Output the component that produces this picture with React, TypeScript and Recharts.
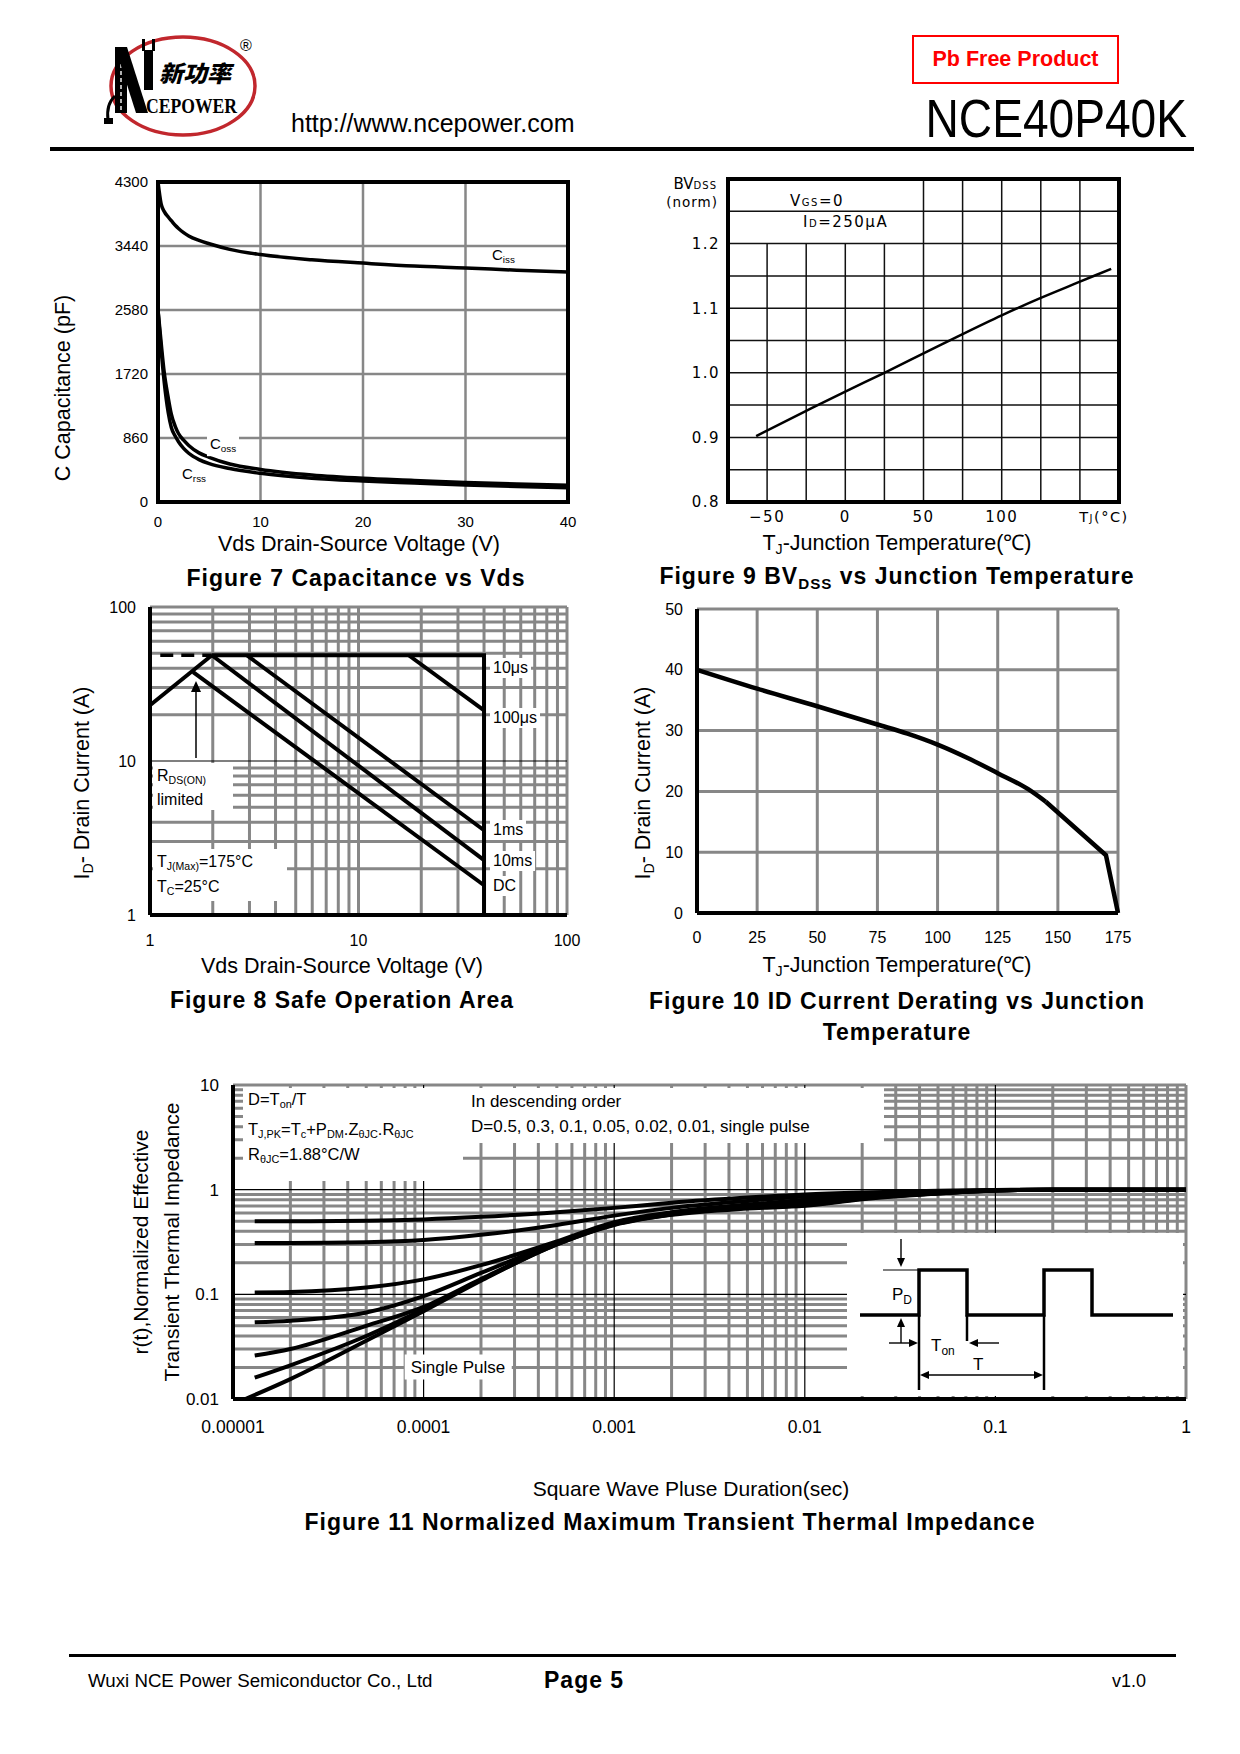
import React from 'react'
import { LineChart, Line, XAxis, YAxis, ReferenceLine } from 'recharts'

// Figure 7 – capacitance vs Vds (pF)
const capVds = [0, 0.3, 0.6, 1, 1.3, 1.7, 2, 2.5, 3, 4, 5, 7, 10, 15, 20, 25, 30, 35, 40]
const capCiss = [4300, 4010, 3905, 3830, 3780, 3715, 3675, 3620, 3575, 3515, 3470, 3395, 3325, 3255, 3210, 3170, 3145, 3115, 3090]
const capCoss = [2580, 2150, 1750, 1400, 1180, 1010, 920, 830, 760, 660, 600, 510, 437, 362, 318, 290, 262, 242, 225]
const capCrss = [2580, 2050, 1620, 1200, 1000, 880, 810, 720, 655, 570, 515, 450, 385, 318, 282, 255, 228, 208, 192]
const capTicksX = [0, 10, 20, 30, 40]
const capTicksY = [0, 860, 1720, 2580, 3440, 4300]

// Figure 9 – BVdss (normalised) vs Tj
const bvTemp = [-57, -25, 0, 25, 50, 75, 100, 125, 150, 170]
const bvNorm = [0.902, 0.941, 0.971, 1.0, 1.03, 1.06, 1.089, 1.116, 1.141, 1.161]
const bvTicksX = [-50, 0, 50, 100]
const bvTicksY = [0.8, 0.9, 1.0, 1.1, 1.2]
const bvGridX = [-50, -25, 0, 25, 50, 75, 100, 125, 150]
const bvGridY = [0.85, 0.9, 0.95, 1.0, 1.05, 1.1, 1.15, 1.2, 1.25]

// Figure 8 – safe operating area (V, A)
const soaDashed = [{ v: 1.12, i: 48.6 }, { v: 1.98, i: 48.6 }]
const soaRds = [{ v: 1, i: 23 }, { v: 1.98, i: 48.6 }]
const soaLimit = [{ v: 1.98, i: 48.6 }, { v: 40, i: 48.6 }, { v: 40, i: 1 }]
const soa100us = [{ v: 17.4, i: 48.6 }, { v: 40, i: 21.3 }]
const soa1ms = [{ v: 2.91, i: 48.6 }, { v: 40, i: 3.55 }]
const soa10ms = [{ v: 1.98, i: 48.6 }, { v: 40, i: 2.27 }]
const soaDC = [{ v: 1.61, i: 37.8 }, { v: 40, i: 1.56 }]
const soaTicks = [1, 10, 100]

// Figure 10 – current derating (smooth part, then the straight tail)
const derTemp = [0, 25, 50, 75, 87.5, 100, 112.5, 125, 137.5, 145]
const derId = [40, 36.9, 34, 31, 29.5, 27.7, 25.5, 23.0, 20.4, 18.3]
const derTailTemp = [145, 170, 175]
const derTailId = [18.3, 9.5, 0]
const derTicksX = [0, 25, 50, 75, 100, 125, 150, 175]
const derTicksY = [0, 10, 20, 30, 40, 50]

// Figure 11 – normalised transient thermal impedance
const zthTimes = [1.3e-5, 2e-5, 5e-5, 1e-4, 2e-4, 5e-4, 1e-3, 2e-3, 5e-3, 1e-2, 2e-2, 5e-2, 0.1, 0.2, 0.5, 1]
const zthD05 = [0.5, 0.5, 0.505, 0.52, 0.55, 0.61, 0.67, 0.75, 0.84, 0.9, 0.94, 0.975, 0.995, 1, 1, 1]
const zthD03 = [0.31, 0.31, 0.315, 0.33, 0.37, 0.46, 0.565, 0.67, 0.78, 0.86, 0.91, 0.96, 0.99, 1, 1, 1]
const zthD01 = [0.104, 0.105, 0.116, 0.139, 0.19, 0.32, 0.49, 0.61, 0.72, 0.8, 0.87, 0.94, 0.985, 1, 1, 1]
const zthD005 = [0.054, 0.056, 0.067, 0.096, 0.16, 0.31, 0.475, 0.595, 0.69, 0.76, 0.85, 0.93, 0.98, 1, 1, 1]
const zthD002 = [0.026, 0.03, 0.05, 0.076, 0.14, 0.305, 0.47, 0.585, 0.68, 0.73, 0.83, 0.925, 0.98, 1, 1, 1]
const zthD001 = [0.016, 0.021, 0.04, 0.072, 0.137, 0.3, 0.465, 0.58, 0.67, 0.71, 0.82, 0.92, 0.98, 1, 1, 1]
const singleTimes = [1.16e-5, 2e-5, 5e-5, 1e-4, 2e-4, 5e-4, 1e-3, 2e-3, 5e-3, 1e-2, 2e-2, 5e-2, 0.1, 0.2, 0.5, 1]
const zthSingle = [0.01, 0.0155, 0.036, 0.069, 0.135, 0.3, 0.46, 0.575, 0.66, 0.7, 0.81, 0.92, 0.98, 1, 1, 1]
const zthTicksX = [1e-5, 1e-4, 1e-3, 1e-2, 0.1, 1]
const zthLabelsX = ['0.00001', '0.0001', '0.001', '0.01', '0.1', '1']
const zthTicksY = [0.01, 0.1, 1, 10]
const zthLabelsY = ['0.01', '0.1', '1', '10']

const logSteps = [2, 3, 4, 5, 6, 7, 8, 9]
const logGrid = (decades: number[]) => decades.flatMap(d => logSteps.map(k => k * d))

const FONT = '"Liberation Sans", Arial, Helvetica, sans-serif'
const WIDE = '"DejaVu Sans", sans-serif'
const GRID = '#878787'
const PAD_L = 70
const PAD_T = 12
const PAD_R = 14
const PAD_B = 50

type Box = { x: number; y: number; w: number; h: number }
const fig7Box: Box = { x: 158, y: 182, w: 410, h: 320 }
const fig9Box: Box = { x: 728, y: 179, w: 391, h: 323 }
const fig8Box: Box = { x: 150, y: 607, w: 417, h: 308 }
const fig10Box: Box = { x: 697, y: 609, w: 421, h: 304 }
const fig11Box: Box = { x: 233, y: 1085, w: 953, h: 314 }

const zip = (xs: number[], ys: number[], kx: string, ky: string) =>
  xs.map((x, k) => ({ [kx]: x, [ky]: ys[k] }))

const capRows = capVds.map((v, k) => ({ v, ciss: capCiss[k], coss: capCoss[k], crss: capCrss[k] }))
const bvRows = zip(bvTemp, bvNorm, 't', 'bv')
const derRows = zip(derTemp, derId, 't', 'id')
const derTailRows = zip(derTailTemp, derTailId, 't', 'id')
const zthCurves = [zthD05, zthD03, zthD01, zthD005, zthD002, zthD001].map(ys => zip(zthTimes, ys, 't', 'z'))
const zthSingleRows = zip(singleTimes, zthSingle, 't', 'z')

function chartProps(b: Box) {
  return {
    width: b.w + PAD_L + PAD_R,
    height: b.h + PAD_T + PAD_B,
    margin: { top: PAD_T, right: PAD_R, left: 0, bottom: 0 },
  }
}
const holder = (b: Box): React.CSSProperties => ({ position: 'absolute', left: b.x - PAD_L, top: b.y - PAD_T })
const frame = (b: Box): React.CSSProperties => ({
  position: 'absolute', left: b.x - 2, top: b.y - 2, width: b.w + 4, height: b.h + 4,
  border: '4px solid #000', boxSizing: 'border-box',
})
const tick = (size: number, family = FONT, extra: object = {}) => ({ fill: '#000', fontSize: size, fontFamily: family, ...extra })

function vLines(vals: number[], color: string, w: number, key: string) {
  return vals.map(v => <ReferenceLine key={key + v} x={v} stroke={color} strokeWidth={w} />)
}
function hLines(vals: number[], color: string, w: number, key: string) {
  return vals.map(v => <ReferenceLine key={key + v} y={v} stroke={color} strokeWidth={w} />)
}

type TxtProps = {
  x: number; y: number; size?: number; bold?: boolean; anchor?: 'start' | 'middle' | 'end'
  rotate?: number; children: React.ReactNode; style?: React.CSSProperties
}
function Txt({ x, y, size = 16, bold, anchor = 'start', rotate, children, style }: TxtProps) {
  const tx = anchor === 'middle' ? '-50%' : anchor === 'end' ? '-100%' : '0'
  return (
    <div style={{
      position: 'absolute', left: x, top: y, fontSize: size, fontWeight: bold ? 700 : 400,
      whiteSpace: 'nowrap', lineHeight: 1,
      transform: `translate(${tx},-50%)${rotate ? ` rotate(${rotate}deg)` : ''}`, ...style,
    }}>{children}</div>
  )
}
const Sub = ({ children }: { children: React.ReactNode }) => (
  <span style={{ fontSize: '0.66em', verticalAlign: '-0.28em' }}>{children}</span>
)
const boxed: React.CSSProperties = { background: '#fff', padding: '2px 3px' }

function Logo() {
  return (
    <svg width={170} height={115} style={{ position: 'absolute', left: 100, top: 30 }}>
      <ellipse cx={83} cy={56} rx={72} ry={49} fill="none" stroke="#c1272d" strokeWidth={3.5} />
      <rect x={15} y={17} width={12} height={66} fill="#000" />
      <line x1={21} y1={20} x2={21} y2={80} stroke="#fff" strokeWidth={1.4} strokeDasharray="4 3" />
      <polygon points="15,17 27,17 48,83 36,83" fill="#000" />
      <rect x={44} y={20} width={9} height={40} fill="#000" />
      <rect x={42} y={9} width={3} height={12} fill="#000" />
      <rect x={52} y={9} width={3} height={12} fill="#000" />
      <path d="M15,66 Q6,74 8,90" stroke="#000" strokeWidth={3} fill="none" />
      <rect x={4} y={88} width={9} height={6} fill="#000" />
      <text x={59} y={52} fontFamily='"Noto Sans CJK SC"' fontWeight={900} fontStyle="italic" fontSize={23}
        textLength={72} lengthAdjust="spacingAndGlyphs">新功率</text>
      <text x={46} y={83} fontFamily='"Liberation Serif", serif' fontWeight={700} fontSize={21}
        textLength={91} lengthAdjust="spacingAndGlyphs">CEPOWER</text>
      <text x={140} y={21} fontFamily={FONT} fontSize={16}>®</text>
    </svg>
  )
}

function PulseInset() {
  const base = 82
  const top = 37
  return (
    <div style={{ position: 'absolute', left: 847, top: 1233, width: 336, height: 163, background: '#fff' }}>
      <svg width={336} height={163} style={{ fontFamily: FONT }}>
        <polyline
          points={`13,${base} 72,${base} 72,${top} 120,${top} 120,${base} 197,${base} 197,${top} 245,${top} 245,${base} 326,${base}`}
          fill="none" stroke="#000" strokeWidth={3.5} />
        <line x1={72} y1={base} x2={72} y2={157} stroke="#000" strokeWidth={2.5} />
        <line x1={120} y1={base} x2={120} y2={108} stroke="#000" strokeWidth={2.5} />
        <line x1={197} y1={base} x2={197} y2={157} stroke="#000" strokeWidth={2.5} />
        <line x1={36} y1={top} x2={72} y2={top} stroke="#000" strokeWidth={1.2} />
        <line x1={54} y1={6} x2={54} y2={26} stroke="#000" strokeWidth={1.4} />
        <polygon points="50,25 58,25 54,34" fill="#000" />
        <line x1={54} y1={110} x2={54} y2={93} stroke="#000" strokeWidth={1.4} />
        <polygon points="50,94 58,94 54,85" fill="#000" />
        <line x1={42} y1={110} x2={62} y2={110} stroke="#000" strokeWidth={1.4} />
        <polygon points="62,106 62,114 71,110" fill="#000" />
        <line x1={152} y1={110} x2={131} y2={110} stroke="#000" strokeWidth={1.4} />
        <polygon points="131,106 131,114 122,110" fill="#000" />
        <line x1={80} y1={142} x2={189} y2={142} stroke="#000" strokeWidth={1.4} />
        <polygon points="82,138 82,146 73,142" fill="#000" />
        <polygon points="187,138 187,146 196,142" fill="#000" />
        <text x={45} y={67} fontSize={17}>P<tspan fontSize={12} dy={4}>D</tspan></text>
        <text x={84} y={118} fontSize={17}>T<tspan fontSize={12} dy={4}>on</tspan></text>
        <text x={126} y={137} fontSize={17}>T</text>
      </svg>
    </div>
  )
}

export default function App() {
  const line = { type: 'monotone' as const, stroke: '#000', dot: false, isAnimationActive: false }
  const lin = { type: 'linear' as const, stroke: '#000', dot: false, isAnimationActive: false }

  return (
    <div style={{ position: 'absolute', left: 0, top: 0, width: 1240, height: 1754, background: '#fff', fontFamily: FONT, color: '#000', overflow: 'hidden' }}>
      {/* header */}
      <Logo />
      <Txt x={291} y={123} size={25}>http://www.ncepower.com</Txt>
      <div style={{
        position: 'absolute', left: 912, top: 35, width: 207, height: 49, border: '2px solid #f00', boxSizing: 'border-box',
        display: 'flex', alignItems: 'center', justifyContent: 'center', color: '#f00', fontWeight: 700, fontSize: 21.5,
      }}>Pb Free Product</div>
      <Txt x={1187} y={118} size={53} anchor="end" style={{ transform: 'translate(-100%,-50%) scaleX(0.87)', transformOrigin: '100% 50%' }}>NCE40P40K</Txt>
      <div style={{ position: 'absolute', left: 50, top: 147, width: 1144, height: 4, background: '#000' }} />

      {/* Figure 7 */}
      <div style={holder(fig7Box)}>
        <LineChart {...chartProps(fig7Box)} data={capRows}>
          <XAxis dataKey="v" type="number" domain={[0, 40]} ticks={capTicksX} interval={0} tickSize={0} tickMargin={14}
            axisLine={false} tickLine={false} height={PAD_B} tick={tick(15)} />
          <YAxis type="number" domain={[0, 4300]} ticks={capTicksY} interval={0} tickSize={0} tickMargin={10}
            axisLine={false} tickLine={false} width={PAD_L} tick={tick(15)} />
          {vLines([10, 20, 30], GRID, 2.5, 'cx')}
          {hLines([860, 1720, 2580, 3440], GRID, 2.5, 'cy')}
          <Line dataKey="ciss" {...line} strokeWidth={3.5} />
          <Line dataKey="coss" {...line} strokeWidth={3.5} />
          <Line dataKey="crss" {...line} strokeWidth={3.5} />
        </LineChart>
      </div>
      <div style={frame(fig7Box)} />
      <Txt x={492} y={256} size={15}>C<Sub>iss</Sub></Txt>
      <Txt x={207} y={445} size={15} style={boxed}>C<Sub>oss</Sub></Txt>
      <Txt x={182} y={475} size={15}>C<Sub>rss</Sub></Txt>
      <Txt x={64} y={388} size={21.5} anchor="middle" rotate={-90}>C Capacitance (pF)</Txt>
      <Txt x={359} y={545} size={21.5} anchor="middle">Vds Drain-Source Voltage (V)</Txt>
      <Txt x={356} y={578} size={23} bold anchor="middle" style={{ letterSpacing: 1 }}>Figure 7 Capacitance vs Vds</Txt>

      {/* Figure 9 */}
      <div style={holder(fig9Box)}>
        <LineChart {...chartProps(fig9Box)} data={bvRows}>
          <XAxis dataKey="t" type="number" domain={[-75, 175]} ticks={bvTicksX} interval={0} tickSize={0} tickMargin={9}
            axisLine={false} tickLine={false} height={PAD_B}
            tickFormatter={(v: number) => String(v).replace('-', '−')}
            tick={tick(15, WIDE, { letterSpacing: 1.5 })} />
          <YAxis type="number" domain={[0.8, 1.3]} ticks={bvTicksY} interval={0} tickSize={0} tickMargin={8}
            axisLine={false} tickLine={false} width={PAD_L} tickFormatter={(v: number) => v.toFixed(1)}
            tick={tick(15, WIDE, { letterSpacing: 1.5 })} />
          {hLines(bvGridY, '#111', 1.5, 'by')}
          {bvGridX.map(v => (
            <ReferenceLine key={'bx' + v} stroke="#111" strokeWidth={1.5}
              segment={[{ x: v, y: 0.8 }, { x: v, y: v < 40 ? 1.2 : 1.3 }]} />
          ))}
          <Line dataKey="bv" {...line} strokeWidth={2.5} />
        </LineChart>
      </div>
      <div style={frame(fig9Box)} />
      <Txt x={717} y={184} size={15} anchor="end" style={{ fontFamily: WIDE }}>BV<span style={{ fontSize: 10, letterSpacing: 1 }}>DSS</span></Txt>
      <Txt x={718} y={203} size={13.5} anchor="end" style={{ fontFamily: WIDE, letterSpacing: 1 }}>(norm)</Txt>
      <Txt x={790} y={201} size={15} style={{ fontFamily: WIDE, letterSpacing: 1.5 }}>V<span style={{ fontSize: 10 }}>GS</span>=0</Txt>
      <Txt x={803} y={222} size={15} style={{ fontFamily: WIDE, letterSpacing: 1.5 }}>I<span style={{ fontSize: 10 }}>D</span>=250μA</Txt>
      <Txt x={1104} y={517} size={14.5} anchor="middle" style={{ fontFamily: WIDE, letterSpacing: 1.5 }}>T<span style={{ fontSize: 10 }}>J</span>(°C)</Txt>
      <Txt x={897} y={545} size={21.5} anchor="middle">T<Sub>J</Sub>-Junction Temperature(℃)</Txt>
      <Txt x={897} y={578} size={23} bold anchor="middle" style={{ letterSpacing: 1 }}>Figure 9 BV<Sub>DSS</Sub> vs Junction Temperature</Txt>

      {/* Figure 8 */}
      <div style={holder(fig8Box)}>
        <LineChart {...chartProps(fig8Box)}>
          <XAxis dataKey="v" type="number" scale="log" domain={[1, 100]} allowDataOverflow ticks={soaTicks} interval={0}
            tickSize={0} tickMargin={20} axisLine={{ stroke: '#000', strokeWidth: 4 }} tickLine={false} height={PAD_B} tick={tick(16)} />
          <YAxis type="number" scale="log" domain={[1, 100]} allowDataOverflow ticks={soaTicks} interval={0}
            tickSize={0} tickMargin={14} axisLine={{ stroke: '#000', strokeWidth: 4 }} tickLine={false} width={PAD_L} tick={tick(16)} />
          {vLines([...logGrid([1, 10]), 10, 100], GRID, 3, 'sx')}
          {hLines([...logGrid([1, 10]), 100], GRID, 3, 'sy')}
          {hLines([10], '#000', 1.2, 'sd')}
          <Line data={soaDashed} dataKey="i" {...lin} strokeWidth={3.5} strokeDasharray="13 8" />
          <Line data={soaRds} dataKey="i" {...lin} strokeWidth={4} />
          <Line data={soaLimit} dataKey="i" {...lin} strokeWidth={4} />
          <Line data={soa100us} dataKey="i" {...lin} strokeWidth={4} />
          <Line data={soa1ms} dataKey="i" {...lin} strokeWidth={4} />
          <Line data={soa10ms} dataKey="i" {...lin} strokeWidth={4} />
          <Line data={soaDC} dataKey="i" {...lin} strokeWidth={4} />
        </LineChart>
      </div>
      <svg width={20} height={84} style={{ position: 'absolute', left: 186, top: 678 }}>
        <line x1={10} y1={80} x2={10} y2={12} stroke="#000" strokeWidth={1.5} />
        <polygon points="5,14 15,14 10,3" fill="#000" />
      </svg>
      <div style={{ position: 'absolute', left: 153, top: 763, width: 80, height: 47, background: '#fff' }} />
      <Txt x={157} y={777} size={16}>R<Sub>DS(ON)</Sub></Txt>
      <Txt x={157} y={800} size={16}>limited</Txt>
      <div style={{ position: 'absolute', left: 153, top: 849, width: 134, height: 52, background: '#fff' }} />
      <Txt x={157} y={863} size={16}>T<Sub>J(Max)</Sub>=175°C</Txt>
      <Txt x={157} y={888} size={16}>T<Sub>C</Sub>=25°C</Txt>
      <Txt x={490} y={668} size={16} style={boxed}>10μs</Txt>
      <Txt x={490} y={718} size={16} style={boxed}>100μs</Txt>
      <Txt x={490} y={830} size={16} style={boxed}>1ms</Txt>
      <Txt x={490} y={861} size={16} style={boxed}>10ms</Txt>
      <Txt x={490} y={886} size={16} style={boxed}>DC</Txt>
      <Txt x={84} y={783} size={21.5} anchor="middle" rotate={-90}>I<Sub>D</Sub>- Drain Current (A)</Txt>
      <Txt x={342} y={967} size={21.5} anchor="middle">Vds Drain-Source Voltage (V)</Txt>
      <Txt x={342} y={1000} size={23} bold anchor="middle" style={{ letterSpacing: 1 }}>Figure 8 Safe Operation Area</Txt>

      {/* Figure 10 */}
      <div style={holder(fig10Box)}>
        <LineChart {...chartProps(fig10Box)}>
          <XAxis dataKey="t" type="number" domain={[0, 175]} ticks={derTicksX} interval={0} tickSize={0} tickMargin={19}
            axisLine={{ stroke: '#000', strokeWidth: 4 }} tickLine={false} height={PAD_B} tick={tick(16)} />
          <YAxis type="number" domain={[0, 50]} ticks={derTicksY} interval={0} tickSize={0} tickMargin={14}
            axisLine={{ stroke: '#000', strokeWidth: 4 }} tickLine={false} width={PAD_L} tick={tick(16)} />
          {vLines([25, 50, 75, 100, 125, 150, 175], GRID, 3, 'dx')}
          {hLines([10, 20, 30, 40, 50], GRID, 3, 'dy')}
          <Line data={derRows} dataKey="id" {...line} strokeWidth={4.5} />
          <Line data={derTailRows} dataKey="id" {...lin} strokeWidth={4.5} />
        </LineChart>
      </div>
      <Txt x={645} y={783} size={21.5} anchor="middle" rotate={-90}>I<Sub>D</Sub>- Drain Current (A)</Txt>
      <Txt x={897} y={967} size={21.5} anchor="middle">T<Sub>J</Sub>-Junction Temperature(℃)</Txt>
      <Txt x={897} y={1001} size={23} bold anchor="middle" style={{ letterSpacing: 1 }}>Figure 10 ID Current Derating vs Junction</Txt>
      <Txt x={897} y={1032} size={23} bold anchor="middle" style={{ letterSpacing: 1 }}>Temperature</Txt>

      {/* Figure 11 */}
      <div style={holder(fig11Box)}>
        <LineChart {...chartProps(fig11Box)}>
          <XAxis dataKey="t" type="number" scale="log" domain={[1e-5, 1]} allowDataOverflow ticks={zthTicksX} interval={0}
            tickFormatter={(v: number, k: number) => zthLabelsX[k] ?? String(v)}
            tickSize={0} tickMargin={22} axisLine={{ stroke: '#000', strokeWidth: 4 }} tickLine={false} height={PAD_B} tick={tick(17.5)} />
          <YAxis type="number" scale="log" domain={[0.01, 10]} allowDataOverflow ticks={zthTicksY} interval={0}
            tickFormatter={(v: number, k: number) => zthLabelsY[k] ?? String(v)}
            tickSize={0} tickMargin={14} axisLine={{ stroke: '#000', strokeWidth: 4 }} tickLine={false} width={PAD_L} tick={tick(17)} />
          {vLines([...logGrid([1e-5, 1e-4, 1e-3, 1e-2, 0.1]), 1], GRID, 3, 'zx')}
          {hLines([...logGrid([0.01, 0.1, 1]), 10], GRID, 3, 'zy')}
          {vLines([1e-4, 1e-3, 1e-2, 0.1], '#000', 1.2, 'zdx')}
          {hLines([0.1, 1], '#000', 1.2, 'zdy')}
          {zthCurves.map((rows, k) => (
            <Line key={'zc' + k} data={rows} dataKey="z" {...line} strokeWidth={4} />
          ))}
          <Line data={zthSingleRows} dataKey="z" {...line} strokeWidth={4} />
        </LineChart>
      </div>
      <div style={{ position: 'absolute', left: 243, top: 1088, width: 220, height: 93, background: '#fff' }} />
      <Txt x={248} y={1100} size={16.5}>D=T<Sub>on</Sub>/T</Txt>
      <Txt x={248} y={1130} size={16.5}>T<Sub>J,PK</Sub>=T<Sub>c</Sub>+P<Sub>DM</Sub>.Z<Sub>θJC</Sub>.R<Sub>θJC</Sub></Txt>
      <Txt x={248} y={1155} size={16.5}>R<Sub>θJC</Sub>=1.88°C/W</Txt>
      <div style={{ position: 'absolute', left: 463, top: 1088, width: 421, height: 55, background: '#fff' }} />
      <Txt x={471} y={1101} size={17}>In descending order</Txt>
      <Txt x={471} y={1126} size={17}>D=0.5, 0.3, 0.1, 0.05, 0.02, 0.01, single pulse</Txt>
      <Txt x={458} y={1367} size={17} anchor="middle" style={{ background: '#fff', padding: '4px 6px' }}>Single Pulse</Txt>
      <PulseInset />
      <Txt x={140} y={1242} size={21} anchor="middle" rotate={-90}>r(t),Normalized Effective</Txt>
      <Txt x={171} y={1242} size={21} anchor="middle" rotate={-90}>Transient Thermal Impedance</Txt>
      <Txt x={691} y={1488} size={21} anchor="middle">Square Wave Pluse Duration(sec)</Txt>
      <Txt x={670} y={1522} size={23} bold anchor="middle" style={{ letterSpacing: 1 }}>Figure 11 Normalized Maximum Transient Thermal Impedance</Txt>

      {/* footer */}
      <div style={{ position: 'absolute', left: 69, top: 1654, width: 1107, height: 3, background: '#000' }} />
      <Txt x={88} y={1681} size={18.7}>Wuxi NCE Power Semiconductor Co., Ltd</Txt>
      <Txt x={544} y={1680} size={23} bold style={{ letterSpacing: 1 }}>Page 5</Txt>
      <Txt x={1112} y={1681} size={18}>v1.0</Txt>
    </div>
  )
}
